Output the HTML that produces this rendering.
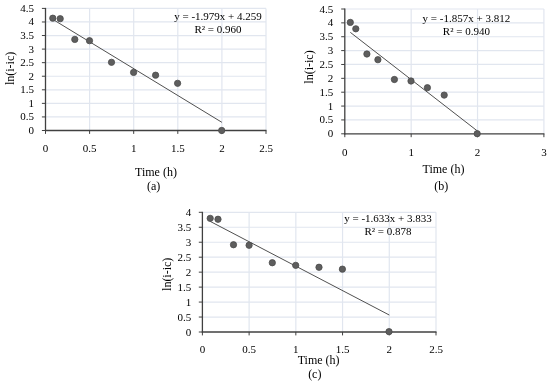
<!DOCTYPE html>
<html><head><meta charset="utf-8"><title>Charts</title>
<style>
html,body{margin:0;padding:0;background:#fff;}
svg{display:block;font-family:"Liberation Serif",serif;fill:#000000;}
</style></head><body>
<svg width="551" height="382" viewBox="0 0 551 382">
<rect width="551" height="382" fill="#ffffff"/>
<line x1="45.5" x2="266.0" y1="116.93" y2="116.93" stroke="#e1e6ef" stroke-width="1.2"/>
<line x1="45.5" x2="266.0" y1="103.37" y2="103.37" stroke="#e1e6ef" stroke-width="1.2"/>
<line x1="45.5" x2="266.0" y1="89.80" y2="89.80" stroke="#e1e6ef" stroke-width="1.2"/>
<line x1="45.5" x2="266.0" y1="76.23" y2="76.23" stroke="#e1e6ef" stroke-width="1.2"/>
<line x1="45.5" x2="266.0" y1="62.67" y2="62.67" stroke="#e1e6ef" stroke-width="1.2"/>
<line x1="45.5" x2="266.0" y1="49.10" y2="49.10" stroke="#e1e6ef" stroke-width="1.2"/>
<line x1="45.5" x2="266.0" y1="35.53" y2="35.53" stroke="#e1e6ef" stroke-width="1.2"/>
<line x1="45.5" x2="266.0" y1="21.97" y2="21.97" stroke="#e1e6ef" stroke-width="1.2"/>
<line x1="45.5" x2="266.0" y1="8.40" y2="8.40" stroke="#e1e6ef" stroke-width="1.2"/>
<line x1="89.60" x2="89.60" y1="8.4" y2="130.5" stroke="#e1e6ef" stroke-width="1.2"/>
<line x1="133.70" x2="133.70" y1="8.4" y2="130.5" stroke="#e1e6ef" stroke-width="1.2"/>
<line x1="177.80" x2="177.80" y1="8.4" y2="130.5" stroke="#e1e6ef" stroke-width="1.2"/>
<line x1="221.90" x2="221.90" y1="8.4" y2="130.5" stroke="#e1e6ef" stroke-width="1.2"/>
<line x1="266.00" x2="266.00" y1="8.4" y2="130.5" stroke="#e1e6ef" stroke-width="1.2"/>
<line x1="45.5" x2="45.5" y1="7.9" y2="131.1" stroke="#404040" stroke-width="1.3"/>
<line x1="44.9" x2="266.5" y1="130.5" y2="130.5" stroke="#404040" stroke-width="1.3"/>
<line x1="41.9" x2="45.5" y1="130.50" y2="130.50" stroke="#404040" stroke-width="1"/>
<text x="34" y="134.00" text-anchor="end" font-size="11">0</text>
<line x1="41.9" x2="45.5" y1="116.93" y2="116.93" stroke="#404040" stroke-width="1"/>
<text x="34" y="120.43" text-anchor="end" font-size="11">0.5</text>
<line x1="41.9" x2="45.5" y1="103.37" y2="103.37" stroke="#404040" stroke-width="1"/>
<text x="34" y="106.87" text-anchor="end" font-size="11">1</text>
<line x1="41.9" x2="45.5" y1="89.80" y2="89.80" stroke="#404040" stroke-width="1"/>
<text x="34" y="93.30" text-anchor="end" font-size="11">1.5</text>
<line x1="41.9" x2="45.5" y1="76.23" y2="76.23" stroke="#404040" stroke-width="1"/>
<text x="34" y="79.73" text-anchor="end" font-size="11">2</text>
<line x1="41.9" x2="45.5" y1="62.67" y2="62.67" stroke="#404040" stroke-width="1"/>
<text x="34" y="66.17" text-anchor="end" font-size="11">2.5</text>
<line x1="41.9" x2="45.5" y1="49.10" y2="49.10" stroke="#404040" stroke-width="1"/>
<text x="34" y="52.60" text-anchor="end" font-size="11">3</text>
<line x1="41.9" x2="45.5" y1="35.53" y2="35.53" stroke="#404040" stroke-width="1"/>
<text x="34" y="39.03" text-anchor="end" font-size="11">3.5</text>
<line x1="41.9" x2="45.5" y1="21.97" y2="21.97" stroke="#404040" stroke-width="1"/>
<text x="34" y="25.47" text-anchor="end" font-size="11">4</text>
<line x1="41.9" x2="45.5" y1="8.40" y2="8.40" stroke="#404040" stroke-width="1"/>
<text x="34" y="11.90" text-anchor="end" font-size="11">4.5</text>
<line x1="45.50" x2="45.50" y1="130.5" y2="133.9" stroke="#404040" stroke-width="1"/>
<text x="45.50" y="152.2" text-anchor="middle" font-size="11">0</text>
<line x1="89.60" x2="89.60" y1="130.5" y2="133.9" stroke="#404040" stroke-width="1"/>
<text x="89.60" y="152.2" text-anchor="middle" font-size="11">0.5</text>
<line x1="133.70" x2="133.70" y1="130.5" y2="133.9" stroke="#404040" stroke-width="1"/>
<text x="133.70" y="152.2" text-anchor="middle" font-size="11">1</text>
<line x1="177.80" x2="177.80" y1="130.5" y2="133.9" stroke="#404040" stroke-width="1"/>
<text x="177.80" y="152.2" text-anchor="middle" font-size="11">1.5</text>
<line x1="221.90" x2="221.90" y1="130.5" y2="133.9" stroke="#404040" stroke-width="1"/>
<text x="221.90" y="152.2" text-anchor="middle" font-size="11">2</text>
<line x1="266.00" x2="266.00" y1="130.5" y2="133.9" stroke="#404040" stroke-width="1"/>
<text x="266.00" y="152.2" text-anchor="middle" font-size="11">2.5</text>
<line x1="52.85" y1="19.41" x2="221.90" y2="122.33" stroke="#505050" stroke-width="1"/>
<circle cx="52.8" cy="18.2" r="3.15" fill="#5e5e5e" stroke="#4b4b4b" stroke-width="0.8"/>
<circle cx="60.2" cy="18.7" r="3.15" fill="#5e5e5e" stroke="#4b4b4b" stroke-width="0.8"/>
<circle cx="74.8" cy="39.4" r="3.15" fill="#5e5e5e" stroke="#4b4b4b" stroke-width="0.8"/>
<circle cx="89.5" cy="40.7" r="3.15" fill="#5e5e5e" stroke="#4b4b4b" stroke-width="0.8"/>
<circle cx="111.5" cy="62.3" r="3.15" fill="#5e5e5e" stroke="#4b4b4b" stroke-width="0.8"/>
<circle cx="133.6" cy="72.4" r="3.15" fill="#5e5e5e" stroke="#4b4b4b" stroke-width="0.8"/>
<circle cx="155.6" cy="75.2" r="3.15" fill="#5e5e5e" stroke="#4b4b4b" stroke-width="0.8"/>
<circle cx="177.6" cy="83.3" r="3.15" fill="#5e5e5e" stroke="#4b4b4b" stroke-width="0.8"/>
<circle cx="221.7" cy="130.5" r="3.15" fill="#5e5e5e" stroke="#4b4b4b" stroke-width="0.8"/>
<text x="218" y="20.0" text-anchor="middle" font-size="11">y = -1.979x + 4.259</text>
<text x="218" y="33.4" text-anchor="middle" font-size="11">R² = 0.960</text>
<text transform="translate(13.7,68.4) rotate(-90)" text-anchor="middle" font-size="12">ln(i-ic)</text>
<text x="156" y="176" text-anchor="middle" font-size="12">Time (h)</text>
<text x="153.7" y="190.3" text-anchor="middle" font-size="12">(a)</text>
<line x1="344.8" x2="543.9" y1="119.93" y2="119.93" stroke="#e1e6ef" stroke-width="1.2"/>
<line x1="344.8" x2="543.9" y1="106.07" y2="106.07" stroke="#e1e6ef" stroke-width="1.2"/>
<line x1="344.8" x2="543.9" y1="92.20" y2="92.20" stroke="#e1e6ef" stroke-width="1.2"/>
<line x1="344.8" x2="543.9" y1="78.33" y2="78.33" stroke="#e1e6ef" stroke-width="1.2"/>
<line x1="344.8" x2="543.9" y1="64.47" y2="64.47" stroke="#e1e6ef" stroke-width="1.2"/>
<line x1="344.8" x2="543.9" y1="50.60" y2="50.60" stroke="#e1e6ef" stroke-width="1.2"/>
<line x1="344.8" x2="543.9" y1="36.73" y2="36.73" stroke="#e1e6ef" stroke-width="1.2"/>
<line x1="344.8" x2="543.9" y1="22.87" y2="22.87" stroke="#e1e6ef" stroke-width="1.2"/>
<line x1="344.8" x2="543.9" y1="9.00" y2="9.00" stroke="#e1e6ef" stroke-width="1.2"/>
<line x1="411.17" x2="411.17" y1="9.0" y2="133.8" stroke="#e1e6ef" stroke-width="1.2"/>
<line x1="477.53" x2="477.53" y1="9.0" y2="133.8" stroke="#e1e6ef" stroke-width="1.2"/>
<line x1="543.90" x2="543.90" y1="9.0" y2="133.8" stroke="#e1e6ef" stroke-width="1.2"/>
<line x1="344.8" x2="344.8" y1="8.5" y2="134.4" stroke="#404040" stroke-width="1.3"/>
<line x1="344.2" x2="544.4" y1="133.8" y2="133.8" stroke="#404040" stroke-width="1.3"/>
<line x1="341.2" x2="344.8" y1="133.80" y2="133.80" stroke="#404040" stroke-width="1"/>
<text x="333.3" y="137.30" text-anchor="end" font-size="11">0</text>
<line x1="341.2" x2="344.8" y1="119.93" y2="119.93" stroke="#404040" stroke-width="1"/>
<text x="333.3" y="123.43" text-anchor="end" font-size="11">0.5</text>
<line x1="341.2" x2="344.8" y1="106.07" y2="106.07" stroke="#404040" stroke-width="1"/>
<text x="333.3" y="109.57" text-anchor="end" font-size="11">1</text>
<line x1="341.2" x2="344.8" y1="92.20" y2="92.20" stroke="#404040" stroke-width="1"/>
<text x="333.3" y="95.70" text-anchor="end" font-size="11">1.5</text>
<line x1="341.2" x2="344.8" y1="78.33" y2="78.33" stroke="#404040" stroke-width="1"/>
<text x="333.3" y="81.83" text-anchor="end" font-size="11">2</text>
<line x1="341.2" x2="344.8" y1="64.47" y2="64.47" stroke="#404040" stroke-width="1"/>
<text x="333.3" y="67.97" text-anchor="end" font-size="11">2.5</text>
<line x1="341.2" x2="344.8" y1="50.60" y2="50.60" stroke="#404040" stroke-width="1"/>
<text x="333.3" y="54.10" text-anchor="end" font-size="11">3</text>
<line x1="341.2" x2="344.8" y1="36.73" y2="36.73" stroke="#404040" stroke-width="1"/>
<text x="333.3" y="40.23" text-anchor="end" font-size="11">3.5</text>
<line x1="341.2" x2="344.8" y1="22.87" y2="22.87" stroke="#404040" stroke-width="1"/>
<text x="333.3" y="26.37" text-anchor="end" font-size="11">4</text>
<line x1="341.2" x2="344.8" y1="9.00" y2="9.00" stroke="#404040" stroke-width="1"/>
<text x="333.3" y="12.50" text-anchor="end" font-size="11">4.5</text>
<line x1="344.80" x2="344.80" y1="133.8" y2="137.20000000000002" stroke="#404040" stroke-width="1"/>
<text x="344.80" y="155.7" text-anchor="middle" font-size="11">0</text>
<line x1="411.17" x2="411.17" y1="133.8" y2="137.20000000000002" stroke="#404040" stroke-width="1"/>
<text x="411.17" y="155.7" text-anchor="middle" font-size="11">1</text>
<line x1="477.53" x2="477.53" y1="133.8" y2="137.20000000000002" stroke="#404040" stroke-width="1"/>
<text x="477.53" y="155.7" text-anchor="middle" font-size="11">2</text>
<line x1="543.90" x2="543.90" y1="133.8" y2="137.20000000000002" stroke="#404040" stroke-width="1"/>
<text x="543.90" y="155.7" text-anchor="middle" font-size="11">3</text>
<line x1="350.33" y1="32.37" x2="477.53" y2="131.08" stroke="#505050" stroke-width="1"/>
<circle cx="350.3" cy="22.4" r="3.15" fill="#5e5e5e" stroke="#4b4b4b" stroke-width="0.8"/>
<circle cx="355.8" cy="28.8" r="3.15" fill="#5e5e5e" stroke="#4b4b4b" stroke-width="0.8"/>
<circle cx="366.9" cy="54.0" r="3.15" fill="#5e5e5e" stroke="#4b4b4b" stroke-width="0.8"/>
<circle cx="377.9" cy="59.7" r="3.15" fill="#5e5e5e" stroke="#4b4b4b" stroke-width="0.8"/>
<circle cx="394.4" cy="79.5" r="3.15" fill="#5e5e5e" stroke="#4b4b4b" stroke-width="0.8"/>
<circle cx="411" cy="81" r="3.15" fill="#5e5e5e" stroke="#4b4b4b" stroke-width="0.8"/>
<circle cx="427.4" cy="87.7" r="3.15" fill="#5e5e5e" stroke="#4b4b4b" stroke-width="0.8"/>
<circle cx="444.2" cy="95.1" r="3.15" fill="#5e5e5e" stroke="#4b4b4b" stroke-width="0.8"/>
<circle cx="477.2" cy="133.7" r="3.15" fill="#5e5e5e" stroke="#4b4b4b" stroke-width="0.8"/>
<text x="466.4" y="21.599999999999998" text-anchor="middle" font-size="11">y = -1.857x + 3.812</text>
<text x="466.4" y="34.6" text-anchor="middle" font-size="11">R² = 0.940</text>
<text transform="translate(312.8,67) rotate(-90)" text-anchor="middle" font-size="12">ln(i-ic)</text>
<text x="443.5" y="173" text-anchor="middle" font-size="12">Time (h)</text>
<text x="441.3" y="190" text-anchor="middle" font-size="12">(b)</text>
<line x1="202.4" x2="436" y1="317.04" y2="317.04" stroke="#e1e6ef" stroke-width="1.2"/>
<line x1="202.4" x2="436" y1="302.07" y2="302.07" stroke="#e1e6ef" stroke-width="1.2"/>
<line x1="202.4" x2="436" y1="287.11" y2="287.11" stroke="#e1e6ef" stroke-width="1.2"/>
<line x1="202.4" x2="436" y1="272.15" y2="272.15" stroke="#e1e6ef" stroke-width="1.2"/>
<line x1="202.4" x2="436" y1="257.19" y2="257.19" stroke="#e1e6ef" stroke-width="1.2"/>
<line x1="202.4" x2="436" y1="242.23" y2="242.23" stroke="#e1e6ef" stroke-width="1.2"/>
<line x1="202.4" x2="436" y1="227.26" y2="227.26" stroke="#e1e6ef" stroke-width="1.2"/>
<line x1="202.4" x2="436" y1="212.30" y2="212.30" stroke="#e1e6ef" stroke-width="1.2"/>
<line x1="249.12" x2="249.12" y1="212.3" y2="332.0" stroke="#e1e6ef" stroke-width="1.2"/>
<line x1="295.84" x2="295.84" y1="212.3" y2="332.0" stroke="#e1e6ef" stroke-width="1.2"/>
<line x1="342.56" x2="342.56" y1="212.3" y2="332.0" stroke="#e1e6ef" stroke-width="1.2"/>
<line x1="389.28" x2="389.28" y1="212.3" y2="332.0" stroke="#e1e6ef" stroke-width="1.2"/>
<line x1="436.00" x2="436.00" y1="212.3" y2="332.0" stroke="#e1e6ef" stroke-width="1.2"/>
<line x1="202.4" x2="202.4" y1="211.8" y2="332.6" stroke="#404040" stroke-width="1.3"/>
<line x1="201.8" x2="436.5" y1="332.0" y2="332.0" stroke="#404040" stroke-width="1.3"/>
<line x1="198.8" x2="202.4" y1="332.00" y2="332.00" stroke="#404040" stroke-width="1"/>
<text x="191.3" y="335.50" text-anchor="end" font-size="11">0</text>
<line x1="198.8" x2="202.4" y1="317.04" y2="317.04" stroke="#404040" stroke-width="1"/>
<text x="191.3" y="320.54" text-anchor="end" font-size="11">0.5</text>
<line x1="198.8" x2="202.4" y1="302.07" y2="302.07" stroke="#404040" stroke-width="1"/>
<text x="191.3" y="305.57" text-anchor="end" font-size="11">1</text>
<line x1="198.8" x2="202.4" y1="287.11" y2="287.11" stroke="#404040" stroke-width="1"/>
<text x="191.3" y="290.61" text-anchor="end" font-size="11">1.5</text>
<line x1="198.8" x2="202.4" y1="272.15" y2="272.15" stroke="#404040" stroke-width="1"/>
<text x="191.3" y="275.65" text-anchor="end" font-size="11">2</text>
<line x1="198.8" x2="202.4" y1="257.19" y2="257.19" stroke="#404040" stroke-width="1"/>
<text x="191.3" y="260.69" text-anchor="end" font-size="11">2.5</text>
<line x1="198.8" x2="202.4" y1="242.23" y2="242.23" stroke="#404040" stroke-width="1"/>
<text x="191.3" y="245.73" text-anchor="end" font-size="11">3</text>
<line x1="198.8" x2="202.4" y1="227.26" y2="227.26" stroke="#404040" stroke-width="1"/>
<text x="191.3" y="230.76" text-anchor="end" font-size="11">3.5</text>
<line x1="198.8" x2="202.4" y1="212.30" y2="212.30" stroke="#404040" stroke-width="1"/>
<text x="191.3" y="215.80" text-anchor="end" font-size="11">4</text>
<line x1="202.40" x2="202.40" y1="332.0" y2="335.4" stroke="#404040" stroke-width="1"/>
<text x="202.40" y="353.0" text-anchor="middle" font-size="11">0</text>
<line x1="249.12" x2="249.12" y1="332.0" y2="335.4" stroke="#404040" stroke-width="1"/>
<text x="249.12" y="353.0" text-anchor="middle" font-size="11">0.5</text>
<line x1="295.84" x2="295.84" y1="332.0" y2="335.4" stroke="#404040" stroke-width="1"/>
<text x="295.84" y="353.0" text-anchor="middle" font-size="11">1</text>
<line x1="342.56" x2="342.56" y1="332.0" y2="335.4" stroke="#404040" stroke-width="1"/>
<text x="342.56" y="353.0" text-anchor="middle" font-size="11">1.5</text>
<line x1="389.28" x2="389.28" y1="332.0" y2="335.4" stroke="#404040" stroke-width="1"/>
<text x="389.28" y="353.0" text-anchor="middle" font-size="11">2</text>
<line x1="436.00" x2="436.00" y1="332.0" y2="335.4" stroke="#404040" stroke-width="1"/>
<text x="436.00" y="353.0" text-anchor="middle" font-size="11">2.5</text>
<line x1="210.18" y1="221.37" x2="389.28" y2="315.03" stroke="#505050" stroke-width="1"/>
<circle cx="210.2" cy="218.35" r="3.15" fill="#5e5e5e" stroke="#4b4b4b" stroke-width="0.8"/>
<circle cx="218" cy="219.25" r="3.15" fill="#5e5e5e" stroke="#4b4b4b" stroke-width="0.8"/>
<circle cx="233.5" cy="244.75" r="3.15" fill="#5e5e5e" stroke="#4b4b4b" stroke-width="0.8"/>
<circle cx="249.1" cy="245.25" r="3.15" fill="#5e5e5e" stroke="#4b4b4b" stroke-width="0.8"/>
<circle cx="272.3" cy="262.75" r="3.15" fill="#5e5e5e" stroke="#4b4b4b" stroke-width="0.8"/>
<circle cx="295.7" cy="265.35" r="3.15" fill="#5e5e5e" stroke="#4b4b4b" stroke-width="0.8"/>
<circle cx="319" cy="267.25" r="3.15" fill="#5e5e5e" stroke="#4b4b4b" stroke-width="0.8"/>
<circle cx="342.4" cy="269.15" r="3.15" fill="#5e5e5e" stroke="#4b4b4b" stroke-width="0.8"/>
<circle cx="389" cy="331.65" r="3.15" fill="#5e5e5e" stroke="#4b4b4b" stroke-width="0.8"/>
<text x="388" y="221.7" text-anchor="middle" font-size="11">y = -1.633x + 3.833</text>
<text x="388" y="234.7" text-anchor="middle" font-size="11">R² = 0.878</text>
<text transform="translate(171,274.3) rotate(-90)" text-anchor="middle" font-size="12">ln(i-ic)</text>
<text x="318.6" y="363.5" text-anchor="middle" font-size="12">Time (h)</text>
<text x="314.8" y="377.8" text-anchor="middle" font-size="12">(c)</text>
</svg>
</body></html>
